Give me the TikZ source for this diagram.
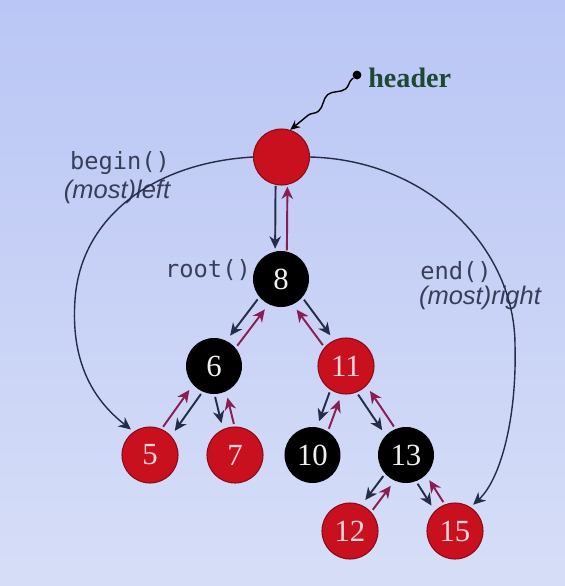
\documentclass[tikz,border=0pt]{standalone}
\usepackage{xcolor}
\usepackage{fontspec}
\setmainfont{Liberation Serif}
\newfontfamily\labelmono{DejaVu Sans Mono}
\newfontfamily\labelsans{Liberation Sans}
\usepackage{tikz}
\usetikzlibrary{arrows.meta,decorations.pathmorphing}

\definecolor{slidetop}{RGB}{186,198,245}
\definecolor{slidebot}{RGB}{214,222,247}
\definecolor{rbred}{RGB}{200,16,30}
\definecolor{rbedge}{RGB}{140,10,22}
\definecolor{rbpink}{RGB}{250,214,222}
\definecolor{downcol}{RGB}{38,44,72}
\definecolor{upcol}{RGB}{140,28,84}
\definecolor{hdrgreen}{RGB}{28,72,52}
\definecolor{labelgray}{RGB}{55,62,88}

\begin{document}
\begin{tikzpicture}[scale=0.2]
            \tikzstyle{every node}+=[inner sep=0pt]
            \tikzstyle{rednode}=[circle, minimum size=1.12cm, fill=rbred, draw=rbedge, line width=0.6pt, text=rbpink, font=\fontsize{17.5}{19}\selectfont]
            \tikzstyle{blacknode}=[circle, minimum size=1.12cm, fill=black, text=white!88!gray, font=\fontsize{17.5}{19}\selectfont]
            \tikzstyle{down}=[draw=downcol, line width=1.1pt, -{Stealth[length=7pt,width=6.5pt,inset=2.2pt]}, shorten <=1.5pt, shorten >=3.5pt]
            \tikzstyle{up}=[draw=upcol, line width=1.1pt, -{Stealth[length=7pt,width=6.5pt,inset=2.2pt]}, shorten <=1.5pt, shorten >=3.5pt]
            \tikzstyle{far}=[draw=downcol, line width=0.8pt, -{Stealth[length=7pt,width=6.5pt,inset=2.2pt]}, shorten >=2pt]
            \tikzstyle{apilabel}=[text=labelgray, font=\labelmono\fontsize{13.5}{15}\selectfont]
            \tikzstyle{mostlabel}=[text=labelgray, font=\labelsans\itshape\fontsize{14.5}{16}\selectfont]
            \shade [top color=slidetop, bottom color=slidebot] (0,0) rectangle (56.5,-58.6);
            \useasboundingbox (0,0) rectangle (56.5,-58.6);
            \node [rednode] (hdr) at (28.15,-15.7) {};
            \node [blacknode] (n8) at (28.1,-27.9) {8};
            \node [blacknode] (n6) at (21.4,-36.6) {6};
            \node [rednode] (n11) at (34.6,-36.6) {11};
            \node [rednode] (n5) at (15.0,-45.5) {5};
            \node [rednode] (n7) at (23.5,-45.5) {7};
            \node [blacknode] (n10) at (31.25,-45.5) {10};
            \node [blacknode] (n13) at (40.6,-45.5) {13};
            \node [rednode] (n12) at (35.0,-53.1) {12};
            \node [rednode] (n15) at (45.5,-53.1) {15};
            \node [circle, fill=black, minimum size=5pt] (hdot) at (35.7,-7.5) {};
            \node [anchor=base west, text=hdrgreen, font=\bfseries\fontsize{16}{18}\selectfont] (htext) at (36.8,-8.7) {header};
            \node [apilabel] (lbegin) at (12.0,-16.3) {begin()};
            \node [mostlabel] (lleft) at (11.7,-19.2) {(most)left};
            \node [apilabel] (lroot) at (20.8,-27.0) {root()};
            \node [apilabel] (lend) at (45.6,-27.2) {end()};
            \node [mostlabel] (lright) at (48.0,-29.8) {(most)right};
            \draw [black, line width=0.8pt, decorate, decoration={snake, amplitude=2pt, segment length=20pt, pre length=1pt, post length=5pt}, -{Stealth[length=5.5pt,width=5pt]}] (hdot) -- (hdr.72);
            \draw [far] (hdr.180) .. controls (15.0,-16.3) and (8.0,-22.0) .. (7.5,-30.0) .. controls (7.0,-37.0) and (10.0,-40.5) .. (n5.125);
            \draw [far] (hdr.0) .. controls (43.0,-16.0) and (51.5,-25.0) .. (51.5,-34.5) .. controls (51.7,-42.0) and (50.0,-48.0) .. (n15.57);
            \draw [down, shorten <=0.5pt, shorten >=1.5pt] (hdr.258) -- (n8.102);
            \draw [up, shorten <=0.5pt, shorten >=1pt] (n8.78) -- (hdr.282);
            \draw [down] (n8.220) -- (n6.64);
            \draw [up] (n6.40) -- (n8.244);
            \draw [down] (n8.319) -- (n11.115);
            \draw [up] (n11.139) -- (n8.295);
            \draw [down] (n6.246) -- (n5.42);
            \draw [up] (n5.66) -- (n6.222);
            \draw [down] (n6.271) -- (n7.115);
            \draw [up] (n7.91) -- (n6.295);
            \draw [down] (n11.237) -- (n10.81);
            \draw [up] (n10.57) -- (n11.261);
            \draw [down] (n11.292) -- (n13.136);
            \draw [up] (n13.112) -- (n11.316);
            \draw [down] (n13.222) -- (n12.66);
            \draw [up] (n12.42) -- (n13.246);
            \draw [down] (n13.291) -- (n15.135);
            \draw [up] (n15.111) -- (n13.315);
        \end{tikzpicture}
\end{document}
